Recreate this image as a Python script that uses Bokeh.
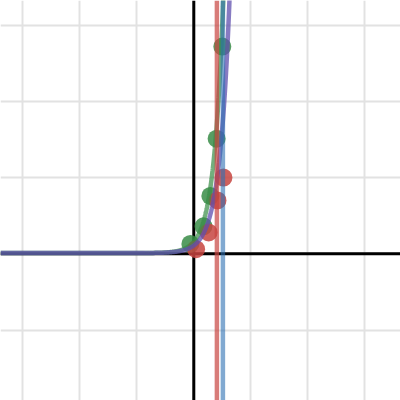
import numpy as np
from bokeh.plotting import figure
from bokeh.models import FixedTicker, Span
from bokeh.embed import file_html
from bokeh.resources import INLINE

# grid ticks (data units)
x_grid_ticks = [-3, -2, -1, 0, 1, 2, 3]
y_grid_ticks = [-1, 0, 1, 2, 3]

# red data points
red_x = [0.04, 0.26, 0.415, 0.52]
red_y = [0.06, 0.28, 0.70, 1.00]

# green data points
green_x = [-0.06, 0.17, 0.29, 0.40, 0.50]
green_y = [0.13, 0.36, 0.76, 1.51, 2.72]

# vertical lines (x positions)
red_line_x = 0.405
blue_line_x = 0.51

# exponential model curves y = a * exp(b x)
green_a, green_b = 0.15, 6.0
purple_a, purple_b = 0.10, 5.6

X0, X1 = -3.388, 3.623
Y0, Y1 = -1.925, 3.324

p = figure(width=400, height=400, x_range=(X0, X1), y_range=(Y0, Y1),
           output_backend="svg", toolbar_location=None, min_border=0)
p.outline_line_color = None
p.background_fill_color = "white"
p.xaxis.visible = False
p.yaxis.visible = False
p.xgrid.ticker = FixedTicker(ticks=x_grid_ticks)
p.ygrid.ticker = FixedTicker(ticks=y_grid_ticks)
p.xgrid.grid_line_color = "#e2e2e2"
p.ygrid.grid_line_color = "#e2e2e2"
p.xgrid.grid_line_width = 2
p.ygrid.grid_line_width = 2

p.add_layout(Span(location=0, dimension="height", line_color="black", line_width=3, level="underlay"))
p.add_layout(Span(location=0, dimension="width", line_color="black", line_width=3, level="underlay"))

# points
p.scatter(green_x, green_y, size=18, fill_color="#388c46", fill_alpha=0.85, line_color=None)
p.scatter(red_x, red_y, size=18, fill_color="#c74440", fill_alpha=0.85, line_color=None)

# model curves
xs = np.linspace(X0, X1, 2000)
gy = green_a * np.exp(green_b * xs)
py = purple_a * np.exp(purple_b * xs)
gm = gy < Y1 + 1
pm = py < Y1 + 1
p.line(xs[gm], gy[gm] + 0.01, line_color="#388c46", line_width=4.5, line_alpha=0.7)
p.add_layout(Span(location=red_line_x, dimension="height", line_color="#c74440", line_width=4.5, line_alpha=0.7))
p.add_layout(Span(location=blue_line_x, dimension="height", line_color="#2d70b3", line_width=4.5, line_alpha=0.6))
p.line(xs[pm], py[pm] + 0.01, line_color="#5f4fae", line_width=4.5, line_alpha=0.75)

open("out.html", "w").write(file_html(p, INLINE))
